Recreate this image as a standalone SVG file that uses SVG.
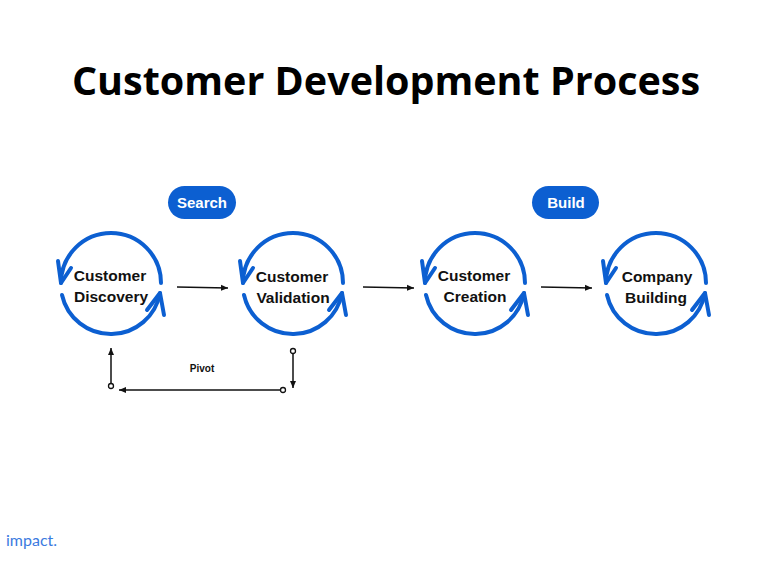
<svg xmlns="http://www.w3.org/2000/svg" width="768" height="576" viewBox="0 0 768 576">
<defs>
<style>
.arc{fill:none;stroke:#0c5fd1;stroke-width:4;stroke-linecap:round;stroke-linejoin:round}
.lbl{font-family:"Liberation Sans",Arial,sans-serif;font-weight:bold;font-size:15.5px;fill:#111;text-anchor:middle}
.conn{fill:none;stroke:#111;stroke-width:1.5}
.pill{fill:#0c5fd1}
.ptxt{font-family:"Liberation Sans",Arial,sans-serif;font-weight:bold;font-size:15px;fill:#fff;text-anchor:middle}
</style>
<g id="cyc">
<path class="arc" d="M61 283 A50 50 0 0 1 161 283"/>
<path class="arc" d="M58 261 L61 283 L71 268"/>
<path class="arc" d="M62 295 A50 50 0 0 0 160 293"/>
<path class="arc" d="M147 310 L160 293 L164 315"/>
</g>
<marker id="ah" markerWidth="8" markerHeight="8" refX="7" refY="4" orient="auto" markerUnits="userSpaceOnUse"><path d="M0 1 L7 4 L0 7 Z" fill="#111"/></marker>
</defs>
<rect width="768" height="576" fill="#fff"/>
<text x="386" y="95" font-family="'Open Sans','Liberation Sans',sans-serif" font-weight="bold" font-size="39.5" text-anchor="middle" fill="#000">Customer Development Process</text>
<g id="search"><rect class="pill" x="168" y="186" width="68" height="33" rx="16.5"/><text class="ptxt" x="202" y="208">Search</text></g>
<g id="build"><rect class="pill" x="532" y="186" width="67" height="33" rx="16.5"/><text class="ptxt" x="566" y="208">Build</text></g>
<g id="n1"><use href="#cyc"/><text class="lbl" x="110" y="281">Customer</text><text class="lbl" x="111" y="302">Discovery</text></g>
<g id="n2"><use href="#cyc" x="182"/><text class="lbl" x="292" y="282">Customer</text><text class="lbl" x="293" y="303">Validation</text></g>
<g id="n3"><use href="#cyc" x="364"/><text class="lbl" x="474" y="281">Customer</text><text class="lbl" x="475" y="302">Creation</text></g>
<g id="n4"><use href="#cyc" x="545"/><text class="lbl" x="657" y="282">Company</text><text class="lbl" x="656" y="303">Building</text></g>
<g id="connectors">
<line class="conn" x1="177" y1="287" x2="228" y2="288" marker-end="url(#ah)"/>
<line class="conn" x1="363" y1="287" x2="414" y2="288" marker-end="url(#ah)"/>
<line class="conn" x1="541" y1="287" x2="592" y2="288" marker-end="url(#ah)"/>
<line class="conn" x1="293" y1="354" x2="293" y2="388" marker-end="url(#ah)"/>
<circle cx="293" cy="351" r="2.5" fill="#fff" stroke="#111" stroke-width="1.3"/>
<line class="conn" x1="280" y1="390" x2="119" y2="390" marker-end="url(#ah)"/>
<circle cx="283" cy="390" r="2.5" fill="#fff" stroke="#111" stroke-width="1.3"/>
<line class="conn" x1="111" y1="384" x2="111" y2="348" marker-end="url(#ah)"/>
<circle cx="111" cy="386" r="2.5" fill="#fff" stroke="#111" stroke-width="1.3"/>
<text x="202" y="372" font-family="'Liberation Sans',Arial,sans-serif" font-size="10" font-weight="bold" fill="#111" text-anchor="middle">Pivot</text>
</g>
<text x="6" y="546" font-family="Lato,'Liberation Sans',sans-serif" font-size="16" fill="#3b7be0">impact.</text>
</svg>
